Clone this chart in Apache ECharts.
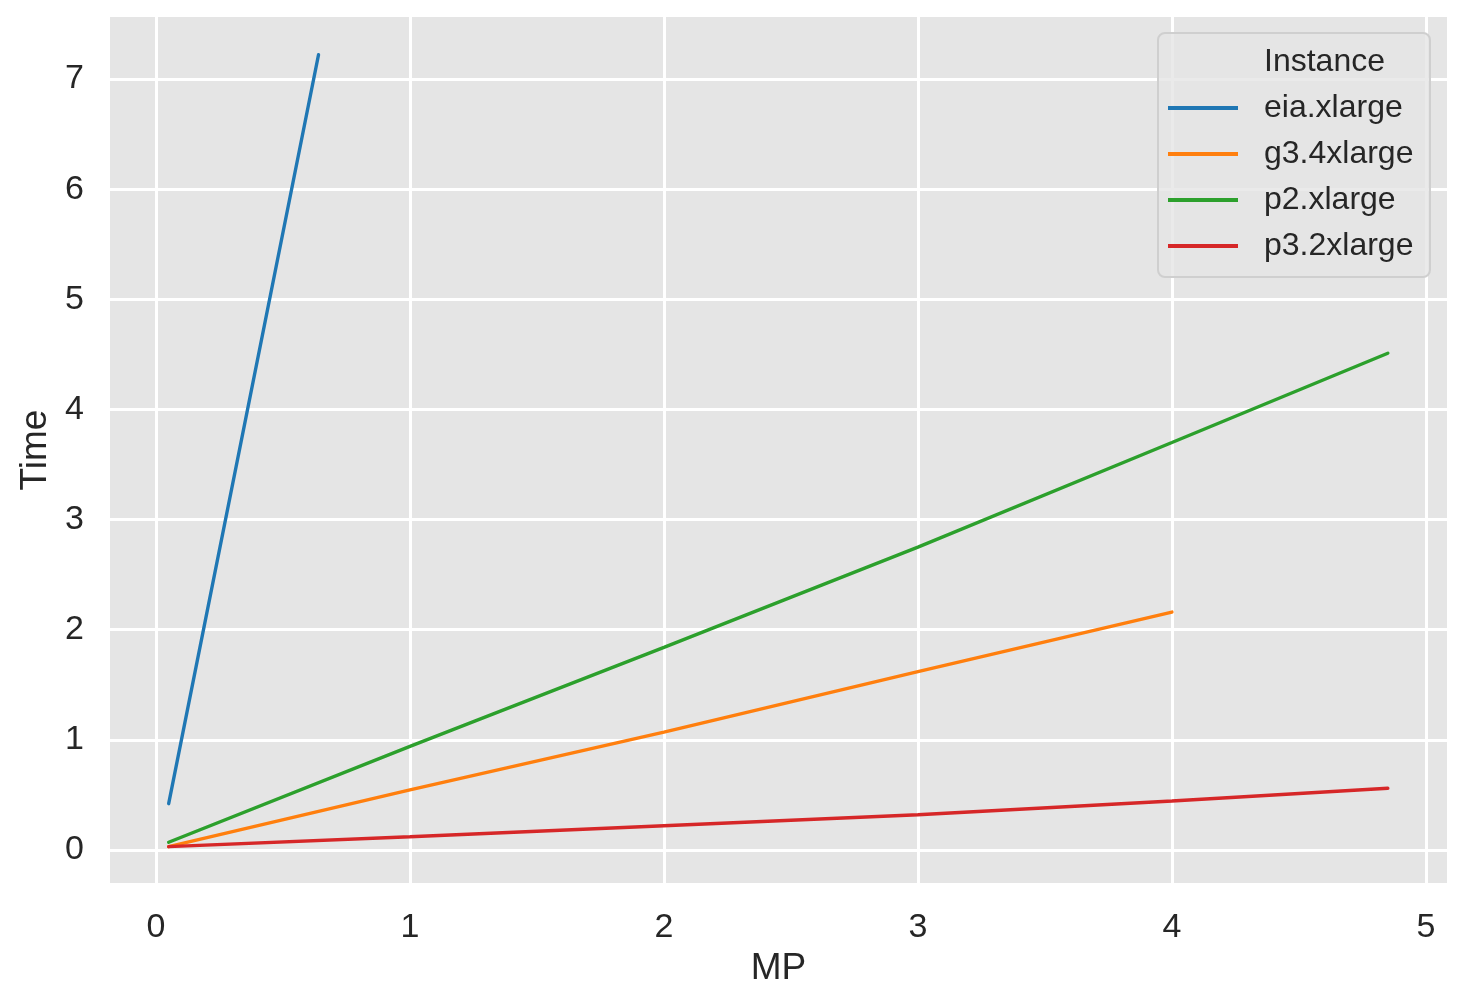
<!DOCTYPE html>
<html>
<head>
<meta charset="utf-8">
<script src="https://cdn.jsdelivr.net/npm/echarts@6/dist/echarts.min.js"></script>
<style>html,body{margin:0;padding:0;background:#fff}#c{width:1466px;height:1000px}</style>
</head>
<body>
<div id="c"></div>
<script>
const seriesNames = ['eia.xlarge', 'g3.4xlarge', 'p2.xlarge', 'p3.2xlarge'];
const eiaData = [[0.05, 0.42], [0.64, 7.22]];
const g3Data = [[0.05, 0.03], [1, 0.545], [2, 1.07], [3, 1.62], [4, 2.16]];
const p2Data = [[0.05, 0.07], [1, 0.94], [2, 1.84], [3, 2.75], [4, 3.70], [4.85, 4.51]];
const p3Data = [[0.05, 0.03], [1, 0.12], [2, 0.22], [3, 0.32], [4, 0.445], [4.85, 0.56]];
const xTicks = [0, 1, 2, 3, 4, 5];
const yTicks = [0, 1, 2, 3, 4, 5, 6, 7];
const colors = ['#1f77b4', '#ff7f0e', '#2ca02c', '#d62728'];
const allData = [eiaData, g3Data, p2Data, p3Data];

const FONT = 'Liberation Sans, Arial, sans-serif';
const TXT = '#262626';

const chart = echarts.init(document.getElementById('c'), null, {renderer: 'canvas'});
chart.setOption({
  animation: false,
  backgroundColor: '#ffffff',
  textStyle: {fontFamily: FONT},
  grid: {left: 110, right: 19, top: 17, bottom: 117, show: true, backgroundColor: '#e5e5e5', borderWidth: 0, containLabel: false},
  title: {
    text: 'Instance', left: 1264, top: 46, padding: 0, z: 12,
    textStyle: {fontSize: 32, fontWeight: 'normal', color: TXT, fontFamily: FONT}
  },
  graphic: [{
    type: 'rect', z: 8, silent: true,
    shape: {x: 1158, y: 33, width: 272, height: 244, r: 7},
    style: {fill: 'rgba(229,229,229,0.8)', stroke: '#cfcfcf', lineWidth: 2}
  }],
  legend: {
    orient: 'vertical', left: 1168, top: 92, z: 12, padding: 0,
    itemWidth: 70, itemHeight: 4, itemGap: 14,
    icon: 'rect',
    data: seriesNames.map((n, i) => ({name: n, itemStyle: {color: colors[i]}})),
    textStyle: {fontSize: 32, color: TXT, fontFamily: FONT, lineHeight: 32, padding: [0, 0, 0, 21]},
    formatter: n => n
  },
  xAxis: {
    type: 'value', min: -0.181, max: 5.083,
    name: 'MP', nameLocation: 'middle', nameGap: 62,
    nameTextStyle: {fontSize: 37, color: TXT, fontFamily: FONT},
    axisLine: {show: false}, axisTick: {show: false, customValues: xTicks},
    axisLabel: {customValues: xTicks, fontSize: 34, color: TXT, margin: 28, fontFamily: FONT},
    splitLine: {show: true, lineStyle: {color: '#ffffff', width: 3}}
  },
  yAxis: {
    type: 'value', min: -0.30, max: 7.563,
    name: 'Time', nameLocation: 'middle', nameGap: 56, nameRotate: 90,
    nameTextStyle: {fontSize: 37, color: TXT, fontFamily: FONT},
    axisLine: {show: false}, axisTick: {show: false, customValues: yTicks},
    axisLabel: {customValues: yTicks, fontSize: 34, color: TXT, margin: 26, fontFamily: FONT, padding: [8, 0, 0, 0]},
    splitLine: {show: true, lineStyle: {color: '#ffffff', width: 3}}
  },
  series: seriesNames.map((n, i) => ({
    name: n, type: 'line', data: allData[i], symbol: 'none', showSymbol: false,
    lineStyle: {color: colors[i], width: 3.4, cap: 'round'}, itemStyle: {color: colors[i]},
    z: 3
  }))
});
</script>
</body>
</html>
